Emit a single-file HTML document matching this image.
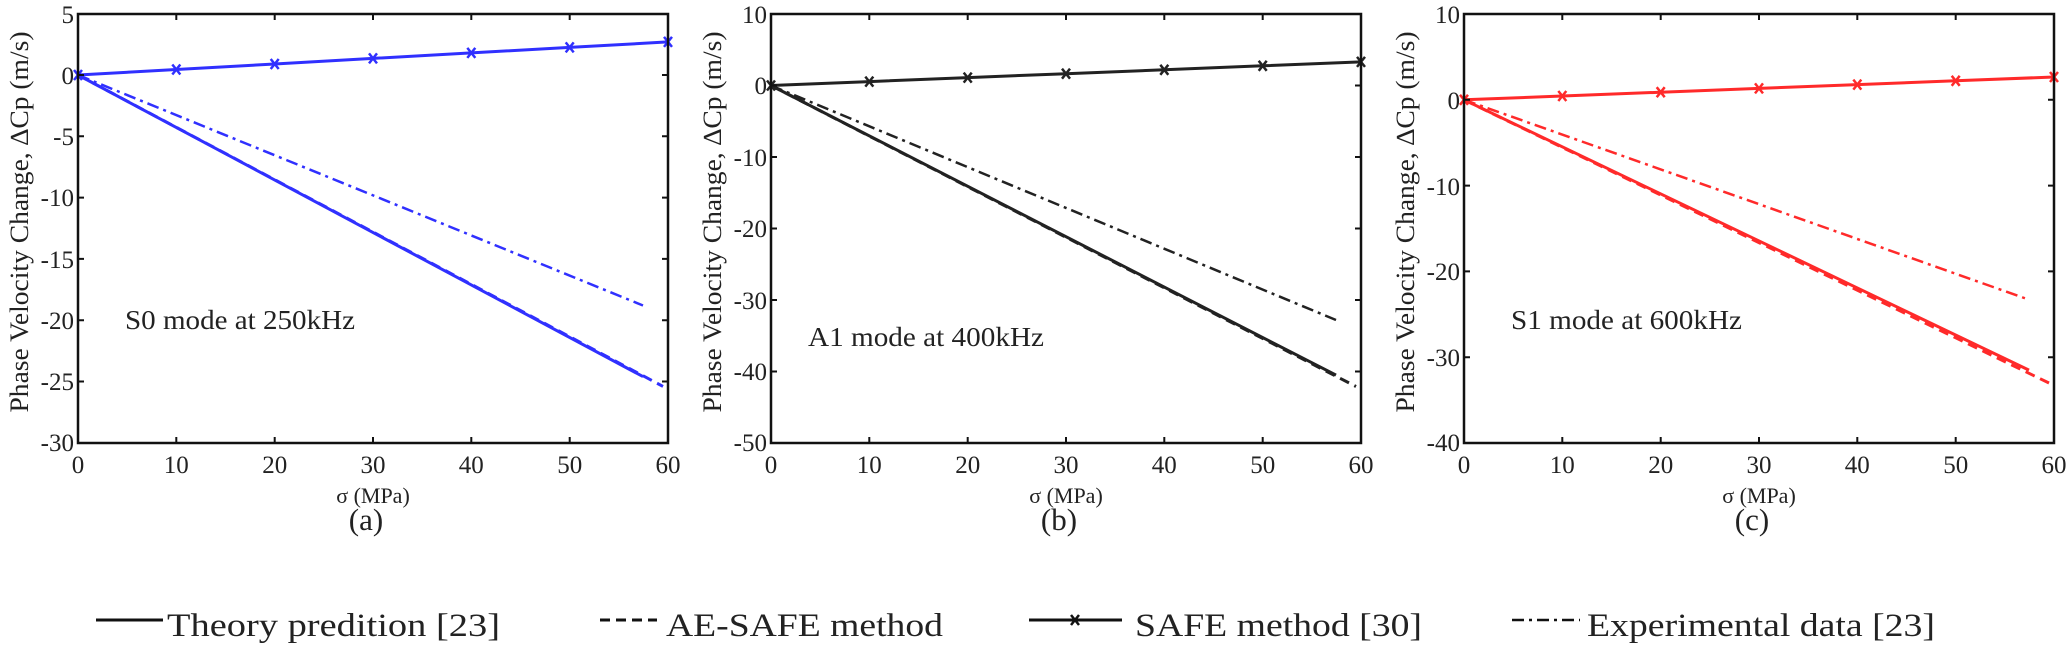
<!DOCTYPE html>
<html><head><meta charset="utf-8"><style>
html,body{margin:0;padding:0;background:#fff;}
svg{display:block;}
text{font-family:"Liberation Serif",serif;fill:#222;}
</style></head><body>
<svg width="2070" height="650" viewBox="0 0 2070 650" xmlns="http://www.w3.org/2000/svg">
<defs>
<g id="xm"><path d="M-4,-5 L4,5 M-4,5 L4,-5" stroke-width="2.5" fill="none"/></g>
</defs>

<!-- Panel a -->
<g>
<g stroke="#3030ff" stroke-width="3" fill="none">
<line x1="78" y1="75" x2="663" y2="386.4" stroke-dasharray="10,6"/>
<line x1="78" y1="75" x2="643" y2="376.6"/>
<line x1="78" y1="75" x2="643" y2="305.5" stroke-dasharray="12,5,3,5" stroke-width="2.5"/>
<polyline points="78,75 176.3,69.5 274.7,64 373,58.4 471.3,52.9 569.7,47.4 668,41.9"/>
</g>
<g stroke="#3030ff">
<use href="#xm" x="78" y="75"/><use href="#xm" x="176.3" y="69.5"/><use href="#xm" x="274.7" y="64"/><use href="#xm" x="373" y="58.4"/><use href="#xm" x="471.3" y="52.9"/><use href="#xm" x="569.7" y="47.4"/><use href="#xm" x="668" y="41.9"/>
</g>
<rect x="78" y="14" width="590" height="429" fill="none" stroke="#111" stroke-width="2.5"/>
<g stroke="#111" stroke-width="2">
<path d="M176.3,443v-6M274.7,443v-6M373,443v-6M471.3,443v-6M569.7,443v-6M176.3,14v6M274.7,14v6M373,14v6M471.3,14v6M569.7,14v6"/>
<path d="M78,75h6M78,136.3h6M78,197.6h6M78,258.9h6M78,320.2h6M78,381.5h6M668,75h-6M668,136.3h-6M668,197.6h-6M668,258.9h-6M668,320.2h-6M668,381.5h-6"/>
</g>
<g font-size="25" text-anchor="end">
<text x="74" y="23">5</text><text x="74" y="84">0</text><text x="74" y="145">-5</text><text x="74" y="206">-10</text><text x="74" y="268">-15</text><text x="74" y="329">-20</text><text x="74" y="390">-25</text><text x="74" y="451">-30</text>
</g>
<g font-size="25" text-anchor="middle">
<text x="78" y="473">0</text><text x="176.3" y="473">10</text><text x="274.7" y="473">20</text><text x="373" y="473">30</text><text x="471.3" y="473">40</text><text x="569.7" y="473">50</text><text x="668" y="473">60</text>
</g>
<text x="373" y="503" font-size="22" text-anchor="middle">σ (MPa)</text>
<text x="366" y="530" font-size="31" text-anchor="middle">(a)</text>
<text x="125" y="329" font-size="27" textLength="230" lengthAdjust="spacingAndGlyphs">S0 mode at 250kHz</text>
<text transform="translate(28,222) rotate(-90)" font-size="26" text-anchor="middle" textLength="381" lengthAdjust="spacingAndGlyphs">Phase Velocity Change, ∆Cp (m/s)</text>
</g>

<!-- Panel b -->
<g>
<g stroke="#222" stroke-width="3" fill="none">
<line x1="771" y1="85.5" x2="1356" y2="386.5" stroke-dasharray="10,6"/>
<line x1="771" y1="85.5" x2="1336" y2="375.1"/>
<line x1="771" y1="85.5" x2="1336" y2="320" stroke-dasharray="12,5,3,5" stroke-width="2.5"/>
<polyline points="771,85.5 869.3,81.6 967.7,77.6 1066,73.7 1164.3,69.8 1262.7,65.8 1361,61.9"/>
</g>
<g stroke="#222">
<use href="#xm" x="771" y="85.5"/><use href="#xm" x="869.3" y="81.6"/><use href="#xm" x="967.7" y="77.6"/><use href="#xm" x="1066" y="73.7"/><use href="#xm" x="1164.3" y="69.8"/><use href="#xm" x="1262.7" y="65.8"/><use href="#xm" x="1361" y="61.9"/>
</g>
<rect x="771" y="14" width="590" height="429" fill="none" stroke="#111" stroke-width="2.5"/>
<g stroke="#111" stroke-width="2">
<path d="M869.3,443v-6M967.7,443v-6M1066,443v-6M1164.3,443v-6M1262.7,443v-6M869.3,14v6M967.7,14v6M1066,14v6M1164.3,14v6M1262.7,14v6"/>
<path d="M771,85.5h6M771,157h6M771,228.5h6M771,300h6M771,371.5h6M1361,85.5h-6M1361,157h-6M1361,228.5h-6M1361,300h-6M1361,371.5h-6"/>
</g>
<g font-size="25" text-anchor="end">
<text x="767" y="23">10</text><text x="767" y="94">0</text><text x="767" y="166">-10</text><text x="767" y="237">-20</text><text x="767" y="309">-30</text><text x="767" y="380">-40</text><text x="767" y="451">-50</text>
</g>
<g font-size="25" text-anchor="middle">
<text x="771" y="473">0</text><text x="869.3" y="473">10</text><text x="967.7" y="473">20</text><text x="1066" y="473">30</text><text x="1164.3" y="473">40</text><text x="1262.7" y="473">50</text><text x="1361" y="473">60</text>
</g>
<text x="1066" y="503" font-size="22" text-anchor="middle">σ (MPa)</text>
<text x="1059" y="530" font-size="31" text-anchor="middle">(b)</text>
<text x="808" y="346" font-size="27" textLength="236" lengthAdjust="spacingAndGlyphs">A1 mode at 400kHz</text>
<text transform="translate(721,222) rotate(-90)" font-size="26" text-anchor="middle" textLength="381" lengthAdjust="spacingAndGlyphs">Phase Velocity Change, ∆Cp (m/s)</text>
</g>

<!-- Panel c -->
<g>
<g stroke="#ff2a2a" stroke-width="3" fill="none">
<line x1="1464" y1="99.8" x2="2049" y2="383" stroke-dasharray="10,6"/>
<line x1="1464" y1="99.8" x2="2029" y2="370.1"/>
<line x1="1464" y1="99.8" x2="2029" y2="299.7" stroke-dasharray="12,5,3,5" stroke-width="2.5"/>
<polyline points="1464,99.8 1562.3,96 1660.7,92.2 1759,88.4 1857.3,84.6 1955.7,80.8 2054,77"/>
</g>
<g stroke="#ff2a2a">
<use href="#xm" x="1464" y="99.8"/><use href="#xm" x="1562.3" y="96"/><use href="#xm" x="1660.7" y="92.2"/><use href="#xm" x="1759" y="88.4"/><use href="#xm" x="1857.3" y="84.6"/><use href="#xm" x="1955.7" y="80.8"/><use href="#xm" x="2054" y="77"/>
</g>
<rect x="1464" y="14" width="590" height="429" fill="none" stroke="#111" stroke-width="2.5"/>
<g stroke="#111" stroke-width="2">
<path d="M1562.3,443v-6M1660.7,443v-6M1759,443v-6M1857.3,443v-6M1955.7,443v-6M1562.3,14v6M1660.7,14v6M1759,14v6M1857.3,14v6M1955.7,14v6"/>
<path d="M1464,99.8h6M1464,185.6h6M1464,271.4h6M1464,357.2h6M2054,99.8h-6M2054,185.6h-6M2054,271.4h-6M2054,357.2h-6"/>
</g>
<g font-size="25" text-anchor="end">
<text x="1460" y="23">10</text><text x="1460" y="109">0</text><text x="1460" y="195">-10</text><text x="1460" y="280">-20</text><text x="1460" y="366">-30</text><text x="1460" y="451">-40</text>
</g>
<g font-size="25" text-anchor="middle">
<text x="1464" y="473">0</text><text x="1562.3" y="473">10</text><text x="1660.7" y="473">20</text><text x="1759" y="473">30</text><text x="1857.3" y="473">40</text><text x="1955.7" y="473">50</text><text x="2054" y="473">60</text>
</g>
<text x="1759" y="503" font-size="22" text-anchor="middle">σ (MPa)</text>
<text x="1752" y="530" font-size="31" text-anchor="middle">(c)</text>
<text x="1511" y="329" font-size="27" textLength="231" lengthAdjust="spacingAndGlyphs">S1 mode at 600kHz</text>
<text transform="translate(1414,222) rotate(-90)" font-size="26" text-anchor="middle" textLength="381" lengthAdjust="spacingAndGlyphs">Phase Velocity Change, ∆Cp (m/s)</text>
</g>

<!-- Legend -->
<g stroke="#111" stroke-width="3" fill="none">
<line x1="96" y1="620" x2="163" y2="620"/>
<line x1="600" y1="620" x2="657" y2="620" stroke-dasharray="10,6"/>
<line x1="1029" y1="620" x2="1122" y2="620"/>
<line x1="1512" y1="620" x2="1580" y2="620" stroke-dasharray="12,5,3,5" stroke-width="2.5"/>
</g>
<use href="#xm" x="1075" y="620" stroke="#111"/>
<g font-size="33">
<text x="167" y="636" textLength="333" lengthAdjust="spacingAndGlyphs">Theory predition [23]</text>
<text x="666" y="636" textLength="277" lengthAdjust="spacingAndGlyphs">AE-SAFE method</text>
<text x="1135" y="636" textLength="287" lengthAdjust="spacingAndGlyphs">SAFE method [30]</text>
<text x="1587" y="636" textLength="348" lengthAdjust="spacingAndGlyphs">Experimental data [23]</text>
</g>
</svg>
</body></html>
